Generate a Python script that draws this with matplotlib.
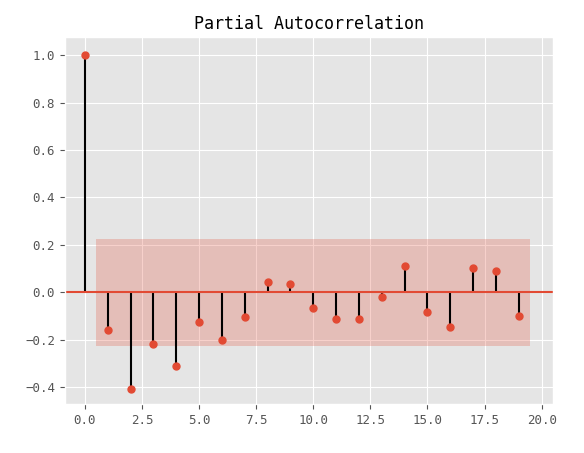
import matplotlib
matplotlib.use("Agg")
import matplotlib.pyplot as plt
import numpy as np

plt.style.use("ggplot")
plt.rcParams['font.family'] = ['DejaVu Sans Mono']

lags = np.arange(20)
pacf = [1.0, -0.16, -0.41, -0.22, -0.31, -0.125, -0.20, -0.105, 0.045, 0.035,
        -0.065, -0.115, -0.115, -0.02, 0.11, -0.085, -0.145, 0.10, 0.09, -0.10]
conf = 0.225

fig = plt.figure(figsize=(5.84, 4.53), dpi=100)
ax = fig.add_axes([0.111, 0.108, 0.836, 0.81])

ax.vlines(lags, 0, pacf, colors='black', linewidth=1.5)
ax.axhline(0, color='#E24A33', linewidth=1.5)
ax.plot(lags, pacf, 'o', color='#E24A33', markersize=5)
band_x = np.concatenate([[0.5], lags[1:], [19.5]])
ax.fill_between(band_x, -conf, conf, color='#E24A33', alpha=0.25, linewidth=0)

ax.set_xlim(-0.88, 20.5)
ax.set_ylim(-0.472, 1.076)
ax.set_title("Partial Autocorrelation", fontsize=12)
ax.tick_params(labelsize=9)

fig.savefig("out.png", dpi=100)
